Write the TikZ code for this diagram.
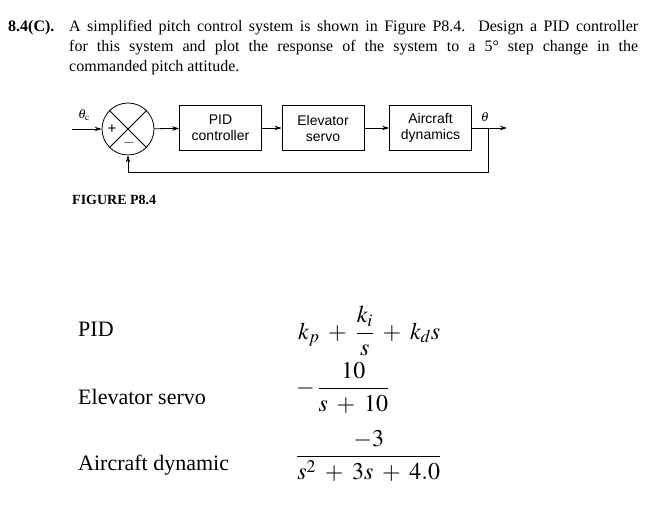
\documentclass[tikz,border=0pt]{standalone}
\usepackage{amsmath}
\usepackage{mathptmx}
\usepackage[no-math]{fontspec}
\setmainfont{Liberation Serif}
\newfontfamily\blk{Liberation Sans}
\usetikzlibrary{arrows.meta}
\newcommand{\pp}{\;+\;}
\begin{document}
\begin{tikzpicture}[x=1pt,y=-1pt,
  blkbox/.style={draw,line width=0.8pt,minimum width=82pt,minimum height=45pt,align=center,font=\blk\fontsize{14}{16}\selectfont,inner sep=1pt},
  sig/.style={-{Stealth[length=7pt,width=4.5pt]},line width=0.8pt},
  hdr/.style={anchor=base west,inner sep=0pt,font=\fontsize{16}{18}\selectfont},
  big/.style={anchor=base west,inner sep=0pt,font=\fontsize{22}{24}\selectfont},
  eqn/.style={anchor=west,inner sep=0pt,font=\fontsize{24}{26}\selectfont}]
\useasboundingbox (0,0) rectangle (648,510);
% header
\node[hdr] (h0) at (8,32) {\textbf{8.4(C).}};
\node[hdr] (h1) at (69,32) {\makebox[569pt][s]{A simplified pitch control system is shown in Figure P8.4. Design a PID controller}};
\node[hdr] (h2) at (69,52) {\makebox[569pt][s]{for this system and plot the response of the system to a 5\textdegree{} step change in the}};
\node[hdr] (h3) at (69,72) {commanded pitch attitude.};
% block diagram
\node[draw,circle,line width=0.8pt,minimum size=52pt,inner sep=0pt] (sum) at (128,129) {};
\draw[line width=0.8pt] (sum.45) -- (sum.225) (sum.135) -- (sum.315);
\node[font=\blk\fontsize{15}{15}\selectfont] (plus) at (112,129) {+};
\node[font=\blk\fontsize{15}{15}\selectfont] (minus) at (129,143) {$-$};
\node[blkbox] (pid) at (220.5,128) {PID\\controller};
\node[blkbox] (ele) at (323,128) {Elevator\\servo};
\node[blkbox] (air) at (430.5,128) {Aircraft\\dynamics};
\coordinate (in) at (72,129);
\coordinate (out) at (507,128);
\coordinate (br) at (488,128);
\node[font=\fontsize{13}{13}\selectfont] (thc) at (84,115) {$\theta_{\mathrm c}$};
\node[font=\fontsize{13}{13}\selectfont] (th) at (485,117) {$\theta$};
\draw[sig] (in) -- (sum);
\draw[sig] (sum) -- (pid);
\draw[sig] (pid) -- (ele);
\draw[sig] (ele) -- (air);
\draw[sig] (air) -- (out);
\draw[sig] (br) -- (488,172) -- (128,172) -- (sum.south);
\node[anchor=base west,inner sep=0pt,font=\bfseries\fontsize{14}{14}\selectfont] (fig) at (72,205) {FIGURE P8.4};
% transfer functions
\node[big] (l1) at (78,337) {PID};
\node[big] (l2) at (78,405) {Elevator servo};
\node[big] (l3) at (78,470) {Aircraft dynamic};
\node[eqn] (e1) at (298,331) {$k_p\pp\dfrac{k_i}{s}\pp k_d s$};
\node[eqn] (e2) at (296,388) {$-\,\dfrac{\;10\;}{s\pp 10}$};
\node[eqn] (e3) at (296,456) {$\dfrac{-3}{s^2\pp 3s\pp 4.0}$};
\end{tikzpicture}
\end{document}
